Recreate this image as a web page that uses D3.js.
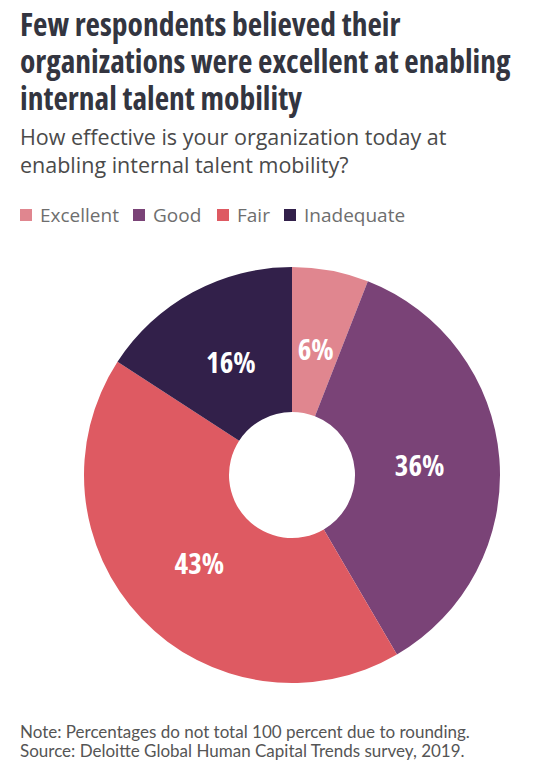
<!DOCTYPE html>
<html>
<head>
<meta charset="utf-8">
<script src="https://cdn.jsdelivr.net/npm/d3@7"></script>
<style>
  html, body { margin: 0; padding: 0; background: #fff; }
  svg { display: block; }
  .title { font-family: "Open Sans", sans-serif; font-weight: 700; font-stretch: condensed; fill: #333540; font-size: 31.5px; }
  .subtitle { font-family: "Open Sans", sans-serif; fill: #4a4a4a; font-size: 21.5px; }
  .legend text { font-family: "Open Sans", sans-serif; fill: #6e6e6e; font-size: 19px; }
  .label { font-family: "Open Sans", sans-serif; font-weight: 700; font-stretch: condensed; fill: #fff; font-size: 29px; }
  .note { font-family: "Lato", sans-serif; fill: #555; font-size: 17px; }
</style>
</head>
<body>
<div id="main"></div>
<script>
!(function () {
  'use strict';

  // data
  const categories = ['Excellent', 'Good', 'Fair', 'Inadequate'];
  const values = [6, 36, 43, 16];
  const colors = ['#e0868f', '#7a4377', '#de5a62', '#32204a'];
  const titleLines = [
    'Few respondents believed their',
    'organizations were excellent at enabling',
    'internal talent mobility'
  ];
  const subtitleLines = [
    'How effective is your organization today at',
    'enabling internal talent mobility?'
  ];
  const noteLines = [
    'Note: Percentages do not total 100 percent due to rounding.',
    'Source: Deloitte Global Human Capital Trends survey, 2019.'
  ];

  const width = 552, height = 778;
  const cx = 292, cy = 475, outerR = 208, innerR = 63, labelR = 128;

  const svg = d3.select('#main').append('svg')
    .attr('width', width)
    .attr('height', height);

  // title (one text block, one tspan per line)
  svg.append('text')
    .attr('class', 'title')
    .attr('y', 36)
    .selectAll('tspan')
    .data(titleLines).enter()
    .append('tspan')
    .attr('x', 20)
    .attr('dy', (d, i) => i === 0 ? 0 : 37)
    .text(d => d);

  svg.append('text')
    .attr('class', 'subtitle')
    .attr('y', 145)
    .selectAll('tspan')
    .data(subtitleLines).enter()
    .append('tspan')
    .attr('x', 20)
    .attr('dy', (d, i) => i === 0 ? 0 : 28)
    .text(d => d);

  // legend
  const legendX = [20, 133, 217, 284];
  const legend = svg.append('g').attr('class', 'legend')
    .selectAll('g')
    .data(categories).enter()
    .append('g')
    .attr('transform', (d, i) => 'translate(' + legendX[i] + ',0)');
  legend.append('rect')
    .attr('x', 0).attr('y', 209)
    .attr('width', 12).attr('height', 12)
    .attr('fill', (d, i) => colors[i]);
  legend.append('text')
    .attr('x', 20).attr('y', 222)
    .text(d => d);

  // donut
  const pie = d3.pie().sort(null).value(d => d.value);
  const arcs = pie(categories.map((c, i) => ({ name: c, value: values[i] })));
  const arc = d3.arc().innerRadius(innerR).outerRadius(outerR);
  const labelArc = d3.arc().innerRadius(labelR).outerRadius(labelR);

  const g = svg.append('g').attr('transform', 'translate(' + cx + ',' + cy + ')');
  g.selectAll('path')
    .data(arcs).enter()
    .append('path')
    .attr('d', arc)
    .attr('fill', (d, i) => colors[i]);

  g.selectAll('text')
    .data(arcs).enter()
    .append('text')
    .attr('class', 'label')
    .attr('transform', d => 'translate(' + labelArc.centroid(d) + ')')
    .attr('text-anchor', 'middle')
    .attr('dy', '0.36em')
    .text(d => d.data.value + '%');

  // footnote
  svg.append('text')
    .attr('class', 'note')
    .attr('y', 738)
    .selectAll('tspan')
    .data(noteLines).enter()
    .append('tspan')
    .attr('x', 20)
    .attr('dy', (d, i) => i === 0 ? 0 : 19)
    .text(d => d);
}());
</script>
</body>
</html>
